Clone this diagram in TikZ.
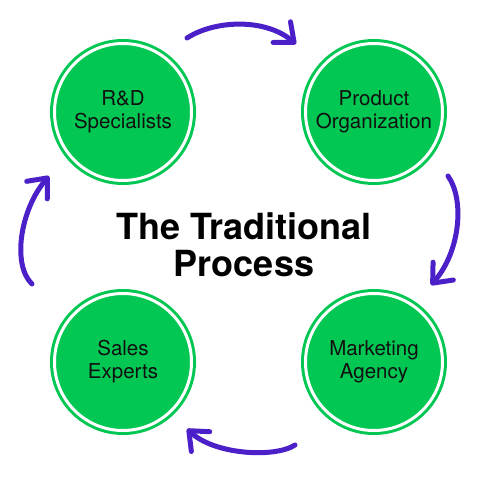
\documentclass[tikz,border=0pt]{standalone}
\usepackage{fontspec}
\setmainfont{TeX Gyre Heros}
\usetikzlibrary{arrows.meta}
\definecolor{grn}{HTML}{02C752}
\definecolor{prp}{HTML}{4B20C8}
\definecolor{ink}{HTML}{111111}
\begin{document}
\begin{tikzpicture}[x=1pt,y=-1pt,
  stage/.style={circle, fill=grn, draw=grn, line width=3pt, double=white,
    double distance=3pt, minimum size=137pt, inner sep=0pt, align=center,
    text=ink, font=\fontsize{20.5}{23}\selectfont},
  flow/.style={draw=prp, line width=5pt, line cap=round,
    -{Straight Barb[length=16pt,width=27pt,round]}},
  titletext/.style={align=center, text=black, font=\bfseries\fontsize{36}{37}\selectfont}]
\useasboundingbox (0,0) rectangle (480,477);
\node[stage] (rd) at (123,112) {R\&D\\Specialists};
\node[stage] (po) at (374,112) {Product\\Organization};
\node[stage] (ma) at (374,362) {Marketing\\Agency};
\node[stage] (se) at (123,362) {Sales\\Experts};
\node[titletext] (title) at (244,245) {The Traditional\\Process};
\coordinate (t1) at (187,38);  \coordinate (t2) at (296,44);
\coordinate (r1) at (448,176); \coordinate (r2) at (431,285);
\coordinate (b1) at (295,445); \coordinate (b2) at (187,429);
\coordinate (l1) at (32,284);  \coordinate (l2) at (49,176);
\draw[flow] (t1) .. controls (215,20) and (265,18) .. (t2);
\draw[flow] (r1) .. controls (465,200) and (460,252) .. (r2);
\draw[flow] (b1) .. controls (275,458) and (215,455) .. (b2);
\draw[flow] (l1) .. controls (12,265) and (20,210) .. (l2);
\end{tikzpicture}
\end{document}
